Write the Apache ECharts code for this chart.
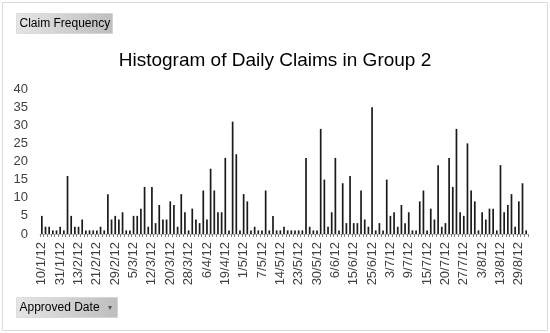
<!DOCTYPE html>
<html><head><meta charset="utf-8">
<script src="https://cdn.jsdelivr.net/npm/echarts/dist/echarts.min.js"></script>
<style>html,body{margin:0;padding:0;background:#fff}#c{width:550px;height:333px}</style>
</head><body><div id="c"></div>
<script>
const dates = [
 '10/1/12','13/1/12','17/1/12','20/1/12','25/1/12',
 '31/1/12','2/2/12','6/2/12','8/2/12','10/2/12',
 '13/2/12','14/2/12','15/2/12','16/2/12','20/2/12',
 '21/2/12','22/2/12','23/2/12','24/2/12','27/2/12',
 '29/2/12','1/3/12','2/3/12','3/3/12','4/3/12',
 '5/3/12','6/3/12','7/3/12','8/3/12','9/3/12',
 '12/3/12','13/3/12','14/3/12','15/3/12','16/3/12',
 '20/3/12','21/3/12','22/3/12','23/3/12','26/3/12',
 '28/3/12','29/3/12','30/3/12','2/4/12','3/4/12',
 '6/4/12','10/4/12','11/4/12','12/4/12','16/4/12',
 '19/4/12','20/4/12','23/4/12','24/4/12','26/4/12',
 '1/5/12','2/5/12','3/5/12','4/5/12','5/5/12',
 '7/5/12','8/5/12','9/5/12','10/5/12','11/5/12',
 '14/5/12','15/5/12','16/5/12','17/5/12','21/5/12',
 '23/5/12','24/5/12','25/5/12','28/5/12','29/5/12',
 '30/5/12','31/5/12','1/6/12','4/6/12','5/6/12',
 '6/6/12','7/6/12','8/6/12','11/6/12','13/6/12',
 '15/6/12','18/6/12','19/6/12','20/6/12','22/6/12',
 '25/6/12','26/6/12','27/6/12','28/6/12','2/7/12',
 '3/7/12','4/7/12','5/7/12','6/7/12','7/7/12',
 '9/7/12','10/7/12','11/7/12','12/7/12','13/7/12',
 '15/7/12','16/7/12','17/7/12','18/7/12','19/7/12',
 '20/7/12','21/7/12','23/7/12','24/7/12','25/7/12',
 '27/7/12','30/7/12','31/7/12','1/8/12','2/8/12',
 '3/8/12','6/8/12','7/8/12','8/8/12','10/8/12',
 '13/8/12','14/8/12','15/8/12','20/8/12','27/8/12',
 '29/8/12','30/8/12','3/9/12'
];
const claims = [
 5,2,2,1,1, 2,1,16,5,2, 2,4,1,1,1, 1,2,1,11,4,
 5,4,6,1,1, 5,5,7,13,2, 13,3,8,4,4, 9,8,2,11,6,
 1,7,4,3,12, 4,18,12,6,6, 21,1,31,22,1, 11,9,1,2,1,
 1,12,1,5,1, 1,2,1,1,1, 1,1,21,2,1, 1,29,15,2,6,
 21,1,14,3,16, 3,3,12,4,2, 35,1,3,1,15, 5,6,2,8,3,
 6,1,1,9,12, 1,7,4,19,2, 3,21,13,29,6, 5,25,12,9,1,
 6,4,7,7,1, 19,6,8,11,2, 9,14,1
];
const yTicks = {min:0, max:40, interval:5};
const titleText = 'Histogram of Daily Claims in Group 2';
const valueField = 'Claim Frequency';
const axisField = 'Approved Date';

const chart = echarts.init(document.getElementById('c'), null, {renderer:'canvas'});
const font = 'Liberation Sans, Arial, sans-serif';
function button(x, y, w, h, label, arrow) {
  const children = [
    {type:'rect', shape:{x:x, y:y, width:w, height:h},
     style:{fill:new echarts.graphic.LinearGradient(0,0,1,1,[{offset:0,color:'#e6e6e6'},{offset:1,color:'#bdbdbd'}]), stroke:'#c8c8c8', lineWidth:0.5}},
    {type:'text', x:x+3, y:y+h/2, style:{text:label, font:'12px ' + font, fill:'#000', verticalAlign:'middle'}}
  ];
  if (arrow) children.push({type:'text', x:x+w-10, y:y+h/2, style:{text:'▾', font:'8px ' + font, fill:'#555', verticalAlign:'middle'}});
  return {type:'group', children:children};
}
chart.setOption({
  animation:false,
  title:{text:titleText, left:'center', top:46, textStyle:{fontFamily:font, fontSize:19, fontWeight:'normal', color:'#000'}},
  grid:{left:40, right:22, top:89, bottom:99, containLabel:false},
  xAxis:{type:'category', data:dates,
    axisLine:{show:true, lineStyle:{color:'#bfbfbf'}},
    axisTick:{show:true, interval:0, length:3, lineStyle:{color:'#808080'}},
    axisLabel:{interval:4, rotate:90, fontSize:13, fontFamily:font, color:'#404040', margin:8}},
  yAxis:{type:'value', min:yTicks.min, max:yTicks.max, interval:yTicks.interval,
    axisLine:{show:false}, axisTick:{show:false}, splitLine:{show:false},
    axisLabel:{fontSize:13, fontFamily:font, color:'#404040', margin:12}},
  series:[{type:'bar', data:claims, barWidth:1.7, itemStyle:{color:'#1a1a1a'}}],
  graphic:[
    {type:'rect', shape:{x:2.5, y:2.5, width:545, height:328}, style:{fill:'none', stroke:'#d9d9d9', lineWidth:1}, silent:true},
    button(16.5, 13.5, 96, 20, valueField, false),
    button(16.5, 297.5, 101, 20, axisField, true)
  ]
});
</script></body></html>
